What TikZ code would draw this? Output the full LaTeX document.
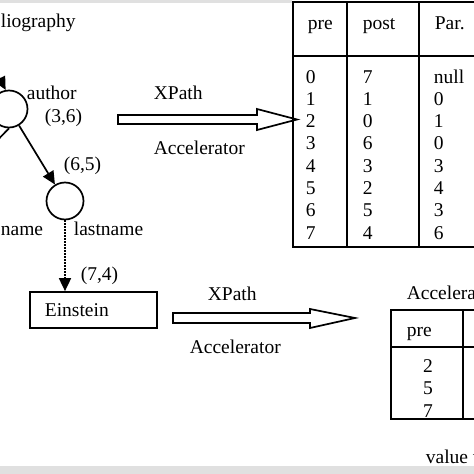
\documentclass[tikz,border=0pt]{standalone}
\usepackage{fontspec}
\setmainfont{Liberation Serif}
\usetikzlibrary{arrows.meta}

\begin{document}
\begin{tikzpicture}[
        x=1pt, y=-1pt,
        font=\fontsize{19.5}{22}\selectfont,
        line width=1.7pt,
        vertex/.style={draw, circle, minimum size=37pt, inner sep=0pt},
        elem/.style={draw, anchor=west, minimum height=36pt, text width=97pt, inner xsep=15pt, inner ysep=0pt},
        txt/.style={anchor=base west, inner sep=0pt},
        num/.style={anchor=base, inner sep=0pt},
        >={Triangle[length=13pt, width=12pt]}
      ]
        \useasboundingbox (0,0) rectangle (474,474);
        \clip (0,0) rectangle (474,474);
        \fill[black!12] (0,0) rectangle (292,3);
        \fill[black!12] (0,466) rectangle (474,474);

        % tree
        \node[txt] at (0,27) {liography};
        \node[vertex] (author) at (9,109) {};
        \node[vertex] (namenode) at (65,201) {};
        \node[elem] (einstein) at (29,310) {Einstein};
        \coordinate (inleft) at (-10,60);
        \coordinate (outleft) at (-20,158);

        \draw[->] (inleft) -- (author.100);
        \draw (author.south) -- (outleft);
        \draw[->] (author) -- (namenode);
        \draw[->, dash pattern=on 1.5pt off 1.5pt] (namenode.south) -- (namenode.south |- einstein.north);

        \node[txt] at (26,99) {author};
        \node[txt] at (44,122) {(3,6)};
        \node[txt] at (63,170) {(6,5)};
        \node[txt] at (0,235) {name};
        \node[txt] at (73,235) {lastname};
        \node[txt] at (80,280) {(7,4)};

        % hollow arrows
        \draw (118,115) -- (257,115) -- (257,109) -- (297,119.5) -- (257,130) -- (257,124) -- (118,124) -- cycle;
        \node[txt] at (153,99) {XPath};
        \node[txt] at (153,154) {Accelerator};
        \draw (173,313) -- (310,313) -- (310,309) -- (355,318) -- (310,328) -- (310,323) -- (173,323) -- cycle;
        \node[txt] at (207,300) {XPath};
        \node[txt] at (189,353) {Accelerator};

        % pre/post table
        \draw (293,2) rectangle (480,247);
        \draw (293,56) -- (480,56);
        \draw (347,2) -- (347,247);
        \draw (419,2) -- (419,247);
        \node[txt] at (307,29) {pre};
        \node[txt] at (362,29) {post};
        \node[txt] at (434,29) {Par.};
        \foreach \vpre/\vpost/\vpar [count=\i from 0] in {0/7/null, 1/1/0, 2/0/1, 3/6/0, 4/3/3, 5/2/4, 6/5/3, 7/4/6} {
            \node[txt] at (305,83+22.3*\i) {\vpre};
            \node[txt] at (362,83+22.3*\i) {\vpost};
            \node[txt] at (433,83+22.3*\i) {\vpar};
        }

        % value table
        \node[txt] at (406,299) {Accelera};
        \draw (391,310) rectangle (480,419);
        \draw (391,347) -- (480,347);
        \draw (463,310) -- (463,419);
        \node[txt] at (406,336) {pre};
        \node[num] at (428,372) {2};
        \node[num] at (428,394) {5};
        \node[num] at (428,417) {7};
        \node[txt] at (425,463) {value t};
    \end{tikzpicture}
\end{document}
